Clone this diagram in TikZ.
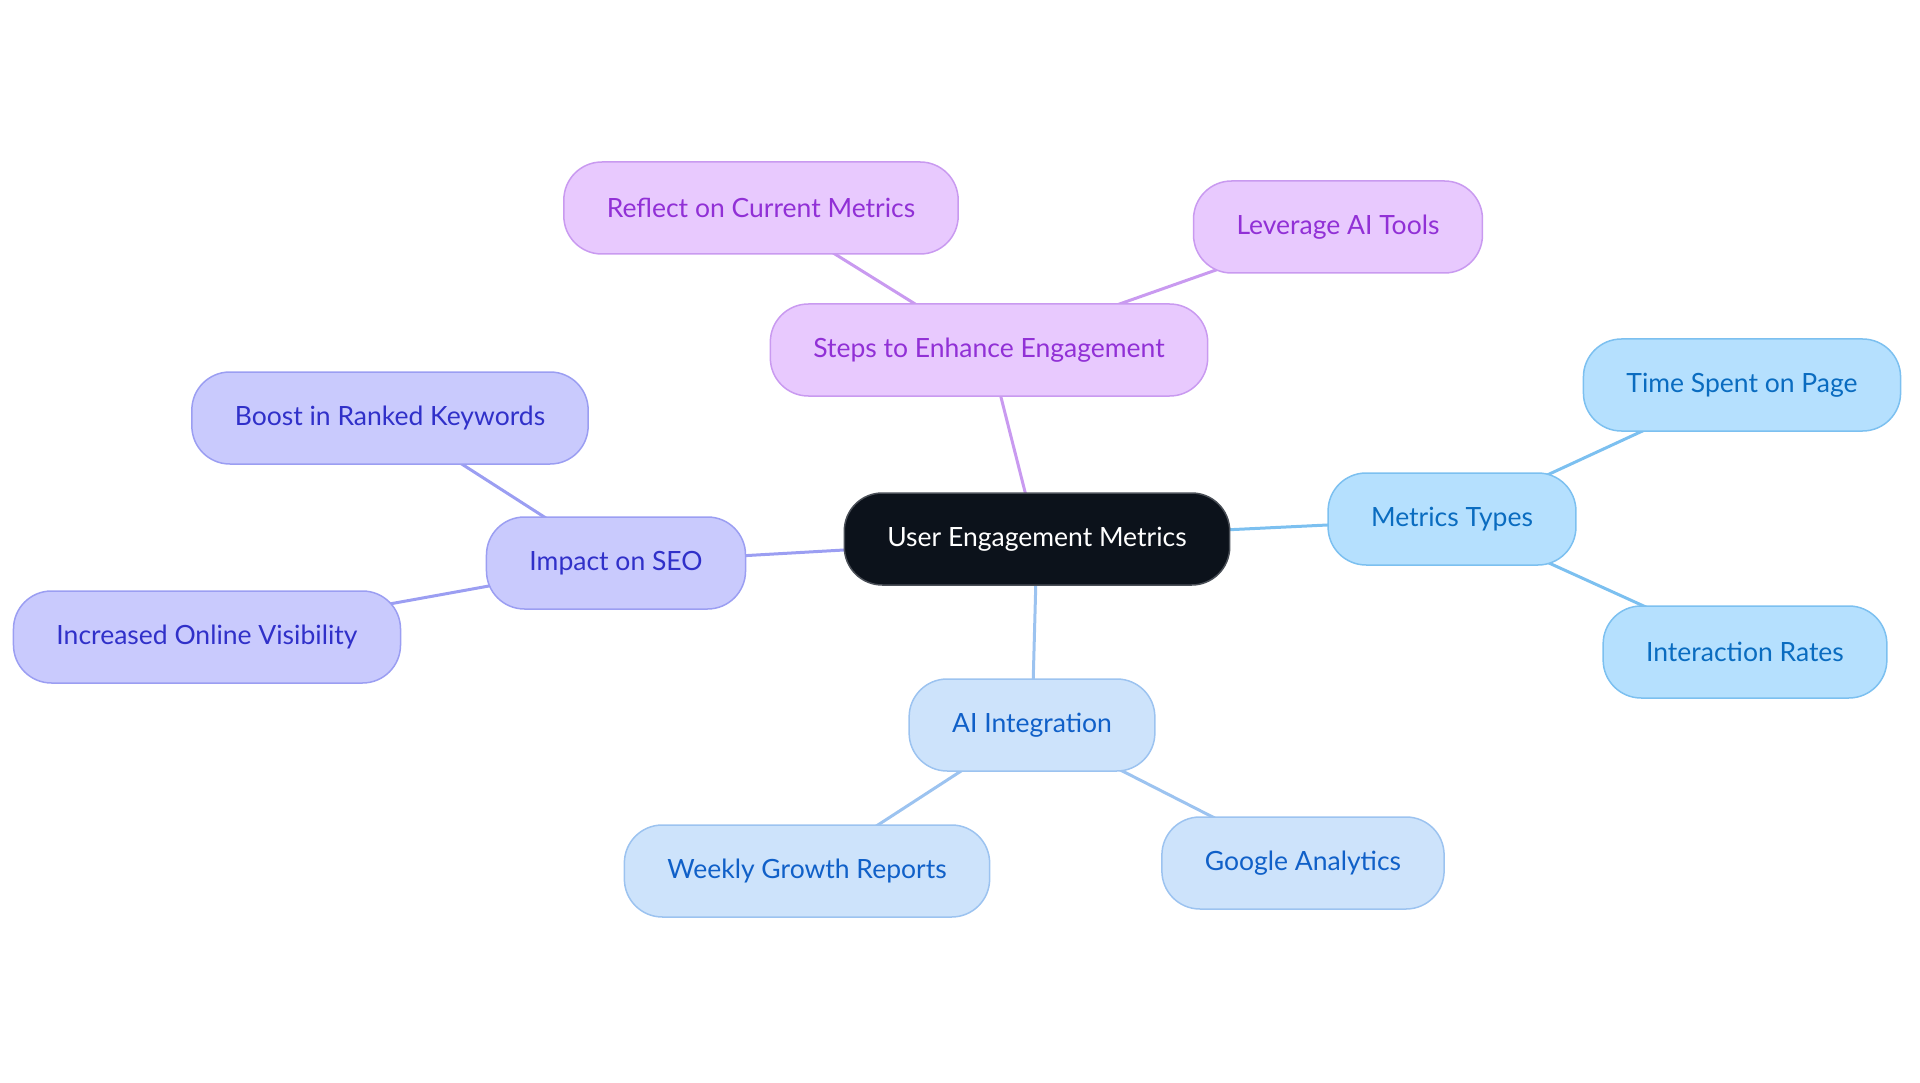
\documentclass[tikz,border=0pt]{standalone}
\usepackage{fontspec}
\setmainfont{Lato}
\usetikzlibrary{backgrounds}
\definecolor{rootfill}{HTML}{0C121B}
\definecolor{rootline}{HTML}{4A4F57}
\definecolor{stepfill}{HTML}{E8C9FE}
\definecolor{stepline}{HTML}{C99AF0}
\definecolor{steptext}{HTML}{9130D6}
\definecolor{seofill}{HTML}{C9CAFD}
\definecolor{seoline}{HTML}{9B9EF2}
\definecolor{seotext}{HTML}{3030C9}
\definecolor{typefill}{HTML}{B5E0FE}
\definecolor{typeline}{HTML}{7CC0F0}
\definecolor{typetext}{HTML}{0A6CC0}
\definecolor{aifill}{HTML}{CDE3FB}
\definecolor{ailine}{HTML}{9CC3F0}
\definecolor{aitext}{HTML}{1060C8}
\begin{document}
\begin{tikzpicture}[x=1pt, y=-1pt,
    pill/.style={rounded corners=38pt, minimum height=92pt, inner xsep=43pt,
      line width=1.5pt, font=\fontsize{26.5}{31}\selectfont},
    rootnode/.style={pill, draw=rootline, fill=rootfill, text=white},
    stepnode/.style={pill, draw=stepline, fill=stepfill, text=steptext},
    seonode/.style={pill, draw=seoline, fill=seofill, text=seotext},
    typenode/.style={pill, draw=typeline, fill=typefill, text=typetext},
    ainode/.style={pill, draw=ailine, fill=aifill, text=aitext},
    link/.style={line width=3pt}]
  \useasboundingbox (0,0) rectangle (1920,1083);
  % centre
  \node[rootnode] (root) at (1037,539) {User Engagement Metrics};
  % steps
  \node[stepnode] (steps) at (989,350) {Steps to Enhance Engagement};
  \node[stepnode] (reflect) at (761,208) {Reflect on Current Metrics};
  \node[stepnode] (leverage) at (1338,227) {Leverage AI Tools};
  % seo
  \node[seonode] (seo) at (616,563) {Impact on SEO};
  \node[seonode] (boost) at (390,418) {Boost in Ranked Keywords};
  \node[seonode] (visible) at (207,637) {Increased Online Visibility};
  % metric types
  \node[typenode] (types) at (1452,519) {Metrics Types};
  \node[typenode] (timespent) at (1742,385) {Time Spent on Page};
  \node[typenode] (rates) at (1745,652) {Interaction Rates};
  % ai
  \node[ainode] (ai) at (1032,725) {AI Integration};
  \node[ainode] (weekly) at (807,871) {Weekly Growth Reports};
  \node[ainode] (google) at (1303,863) {Google Analytics};
  % links
  \begin{pgfonlayer}{background}
    \draw[link, stepline] (root.center) -- (steps.center);
    \draw[link, stepline] (steps.center) -- (reflect.center);
    \draw[link, stepline] (steps.center) -- (leverage.center);
    \draw[link, seoline] (root.center) -- (seo.center);
    \draw[link, seoline] (seo.center) -- (boost.center);
    \draw[link, seoline] (seo.center) -- (visible.center);
    \draw[link, typeline] (root.center) -- (types.center);
    \draw[link, typeline] (types.center) -- (timespent.center);
    \draw[link, typeline] (types.center) -- (rates.center);
    \draw[link, ailine] (root.center) -- (ai.center);
    \draw[link, ailine] (ai.center) -- (weekly.center);
    \draw[link, ailine] (ai.center) -- (google.center);
  \end{pgfonlayer}
\end{tikzpicture}
\end{document}
